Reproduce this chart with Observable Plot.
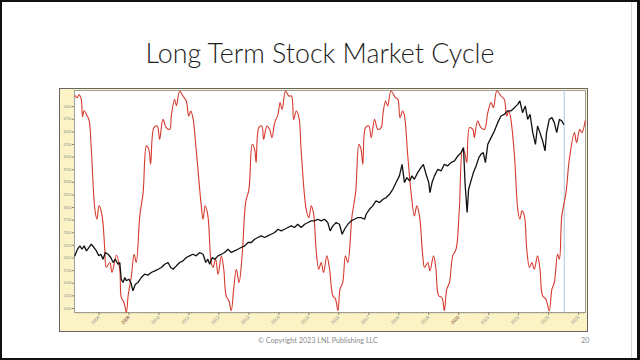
<!DOCTYPE html>
<html>
<head>
<meta charset="utf-8">
<script src="https://cdn.jsdelivr.net/npm/d3@7"></script>
<script src="https://cdn.jsdelivr.net/npm/@observablehq/plot@0.6"></script>
<style>
html,body{margin:0;padding:0;background:#fff;}
#slide{position:relative;width:640px;height:360px;box-sizing:border-box;border-top:2px solid #111;border-left:2px solid #111;border-bottom:2px solid #111;border-right:3px solid #111;background:#fff;overflow:hidden;}
#edge{position:absolute;left:629px;top:0;width:1px;height:360px;background:#d8d8d8;}
#title{position:absolute;left:0;top:35px;width:636px;text-align:center;font-family:Lato,"Open Sans",sans-serif;font-weight:300;font-size:26.8px;line-height:32px;color:#1e1e1e;}
#chart{position:absolute;left:55px;top:84px;}
#chart svg{outline:1px solid #666;outline-offset:-1px;display:block;}
#footer{position:absolute;left:256px;top:334px;font-family:Lato,"Open Sans",sans-serif;font-size:7.2px;color:#8a8a8a;}
#page{position:absolute;left:579px;top:334px;font-family:Lato,"Open Sans",sans-serif;font-size:7.2px;color:#8a8a8a;}
</style>
</head>
<body>
<div id="slide">
  <div id="edge"></div>
  <div id="title">Long Term Stock Market Cycle</div>
  <div id="chart"></div>
  <div id="footer">© Copyright 2023 LNL Publishing LLC</div>
  <div id="page">20</div>
</div>
<script>
// Cycle projection (red)
const cycleYears = [2007.20,2007.27,2007.33,2007.40,2007.45,2007.50,2007.60,2007.67,2007.74,2007.86,2007.93,2008.00,2008.10,2008.19,2008.24,2008.36,2008.43,2008.58,2008.69,2008.74,2008.83,2008.91,2008.97,2009.08,2009.17,2009.24,2009.36,2009.47,2009.58,2009.66,2009.72,2009.83,2009.94,2010.02,2010.13,2010.24,2010.36,2010.41,2010.52,2010.58,2010.69,2010.80,2010.91,2010.99,2011.06,2011.13,2011.24,2011.41,2011.47,2011.54,2011.63,2011.74,2011.80,2011.89,2011.97,2012.08,2012.16,2012.24,2012.33,2012.41,2012.49,2012.58,2012.67,2012.78,2012.89,2013.00,2013.11,2013.19,2013.24,2013.33,2013.43,2013.49,2013.60,2013.69,2013.77,2013.86,2013.97,2014.04,2014.11,2014.22,2014.33,2014.42,2014.49,2014.58,2014.67,2014.74,2014.91,2015.00,2015.08,2015.16,2015.24,2015.33,2015.41,2015.49,2015.60,2015.69,2015.80,2015.89,2015.97,2016.04,2016.13,2016.22,2016.30,2016.44,2016.56,2016.67,2016.74,2016.80,2016.89,2017.00,2017.08,2017.19,2017.30,2017.41,2017.47,2017.56,2017.63,2017.74,2017.89,2017.97,2018.04,2018.13,2018.19,2018.30,2018.41,2018.52,2018.60,2018.69,2018.80,2018.86,2018.97,2019.04,2019.16,2019.24,2019.33,2019.44,2019.52,2019.60,2019.69,2019.80,2019.91,2020.02,2020.13,2020.20,2020.27,2020.36,2020.47,2020.52,2020.63,2020.74,2020.86,2020.97,2021.08,2021.16,2021.27,2021.41,2021.52,2021.60,2021.67,2021.74,2021.86,2021.97,2022.04,2022.11,2022.19,2022.27,2022.36,2022.44,2022.52,2022.63,2022.71,2022.80,2022.91,2023.02,2023.11,2023.19,2023.30,2023.36,2023.44,2023.58,2023.69,2023.86,2023.93,2024.04,2024.11,2024.22];
const cycleValues = [5217,5177,5237,5158,4802,4920,4821,4722,4154,2966,2768,3039,2841,2174,1812,1911,1713,2055,1778,1218,1119,921,1257,1653,2075,1911,2841,3297,4222,4154,3857,4584,4617,4352,4748,4584,4550,4815,5144,5019,5310,5211,5113,4815,4915,4782,4154,3033,2768,3033,2841,1911,1812,1976,1679,2043,1778,1251,1158,954,1382,1778,1515,2109,3099,3362,4253,4154,3891,4584,4617,4352,4617,4550,4386,4683,4847,5079,4946,5311,5211,5211,4748,4915,4782,4154,2966,2802,3033,2867,2174,1778,1911,1713,2043,1778,1251,1184,954,1382,1515,2043,1911,2835,3297,4253,4154,3857,4584,4617,4386,4748,4550,4584,4847,5113,5013,5311,5178,5144,4782,4915,4815,4023,3297,2835,3033,2835,2043,1812,1911,1746,2043,1778,1251,1218,954,1382,1515,2043,2174,2966,4154,4089,3891,4584,4550,4386,4717,4584,4550,4881,5079,4980,5311,5211,5144,4815,4915,4748,4023,2966,2768,2934,2835,2174,1812,1911,1778,2043,1778,1251,1184,954,1382,1515,2075,1976,2835,3297,3956,4485,4287,4550,4485,4717];

// Market index (black)
const marketYears = [2007.19,2007.28,2007.36,2007.43,2007.50,2007.58,2007.66,2007.74,2007.83,2007.91,2007.99,2008.06,2008.13,2008.21,2008.30,2008.39,2008.47,2008.54,2008.63,2008.69,2008.74,2008.80,2008.86,2008.91,2008.99,2009.06,2009.13,2009.21,2009.30,2009.41,2009.52,2009.63,2009.74,2009.86,2009.97,2010.08,2010.19,2010.30,2010.39,2010.47,2010.58,2010.69,2010.80,2010.91,2011.02,2011.13,2011.24,2011.36,2011.47,2011.56,2011.63,2011.69,2011.78,2011.86,2011.97,2012.08,2012.19,2012.30,2012.41,2012.52,2012.63,2012.74,2012.86,2012.97,2013.08,2013.19,2013.30,2013.41,2013.52,2013.63,2013.74,2013.86,2013.97,2014.08,2014.19,2014.30,2014.41,2014.52,2014.63,2014.74,2014.86,2014.97,2015.08,2015.19,2015.30,2015.41,2015.52,2015.63,2015.71,2015.80,2015.91,2016.02,2016.11,2016.19,2016.30,2016.41,2016.52,2016.63,2016.74,2016.86,2016.91,2017.02,2017.13,2017.24,2017.36,2017.47,2017.58,2017.69,2017.80,2017.91,2018.02,2018.11,2018.19,2018.27,2018.36,2018.44,2018.52,2018.63,2018.74,2018.82,2018.91,2019.00,2019.04,2019.11,2019.19,2019.30,2019.41,2019.52,2019.63,2019.74,2019.86,2019.97,2020.08,2020.16,2020.21,2020.28,2020.33,2020.41,2020.49,2020.58,2020.67,2020.74,2020.82,2020.89,2020.97,2021.08,2021.19,2021.30,2021.41,2021.52,2021.63,2021.74,2021.86,2021.97,2022.04,2022.13,2022.22,2022.30,2022.38,2022.47,2022.56,2022.63,2022.71,2022.80,2022.88,2022.93,2023.02,2023.11,2023.19,2023.27,2023.36,2023.44,2023.50];
const marketValues = [2043,2174,2241,2174,2241,2142,2208,2273,2208,2142,2043,2075,1976,2109,2075,2010,1911,1976,1877,1911,1580,1515,1614,1548,1580,1515,1350,1481,1515,1614,1679,1659,1713,1746,1778,1812,1877,1911,1812,1778,1845,1911,1944,2010,2043,2075,2043,2109,2075,1911,1976,1877,2010,1976,2043,2075,2109,2174,2109,2142,2174,2208,2241,2307,2307,2372,2406,2439,2406,2439,2471,2505,2570,2538,2570,2604,2637,2604,2669,2604,2669,2703,2736,2736,2768,2736,2768,2703,2538,2637,2703,2669,2471,2570,2669,2736,2768,2802,2802,2768,2867,2966,3033,3132,3099,3164,3198,3263,3362,3495,3628,3857,3495,3594,3528,3628,3560,3693,3792,3857,3659,3495,3297,3495,3628,3758,3726,3857,3825,3891,3924,4023,4089,4188,3495,2901,3362,3528,3693,3825,3990,4055,4089,3891,4253,4386,4519,4683,4815,4847,4915,4915,4980,5045,5113,4881,5013,4748,4847,4485,4253,4617,4485,4320,4123,4485,4748,4782,4683,4485,4748,4717,4650];

// Current-date marker
const markerYear = [2023.52];

// Axis ticks and labels
const yearTicks = [2008,2009,2010,2011,2012,2013,2014,2015,2016,2017,2018,2019,2020,2021,2022,2023,2024];
const yearLabels = ["2008","2009","2010","2011","2012","2013","2014","2015","2016","2017","2018","2019","2020","2021","2022","2023","2024"];
const highlightYears = [2009, 2020];
const valueTicks = [1000,1250,1500,1750,2000,2250,2500,2750,3000,3250,3500,3750,4000,4250,4500,4750,5000];

const cycle = cycleYears.map((x, i) => ({x, y: cycleValues[i]}));
const market = marketYears.map((x, i) => ({x, y: marketValues[i]}));
const yearLab = yearTicks.map((x, i) => ({x, label: yearLabels[i], hi: highlightYears.includes(x)}));
const monthTicks = d3.range(2007.25, 2024.24, 1 / 12);

const chart = Plot.plot({
  width: 529,
  height: 244,
  marginLeft: 15,
  marginRight: 3,
  marginTop: 2,
  marginBottom: 20,
  style: {background: "#fbf3c5", fontFamily: "Arial, sans-serif", overflow: "visible"},
  x: {domain: [2007.18, 2024.23]},
  y: {domain: [920, 5320]},
  marks: [
    Plot.frame({fill: "#fff", stroke: "#a0a0a0"}),
    Plot.axisX(monthTicks, {tickSize: 1.5, tickFormat: () => "", stroke: "#a09a80", label: null}),
    Plot.axisX(yearTicks, {tickSize: 3, tickFormat: () => "", stroke: "#8a8470", label: null}),
    Plot.text(yearLab, {x: "x", text: "label", frameAnchor: "bottom", dy: 5, dx: 1, rotate: -45, textAnchor: "end", fontSize: 4.5, fill: d => d.hi ? "#6b2a1c" : "#8a8a8a", fontWeight: d => d.hi ? "bold" : "normal"}),
    Plot.axisY(valueTicks, {tickSize: 2, tickPadding: 1, fontSize: 3.6, fill: "#8a8a8a", stroke: "#8a8470", tickFormat: d => String(d), label: null}),
    Plot.ruleX(markerYear, {stroke: "#a9c8d8", strokeWidth: 1}),
    Plot.line(cycle, {x: "x", y: "y", stroke: "#d63a2d", strokeWidth: 1.1, curve: "catmull-rom"}),
    Plot.line(market, {x: "x", y: "y", stroke: "#111", strokeWidth: 1.3, strokeLinejoin: "miter"})
  ]
});
const holder = document.getElementById("chart");
holder.style.left = "57px";
holder.style.top = "86px";
holder.appendChild(chart);
</script>
</body>
</html>
